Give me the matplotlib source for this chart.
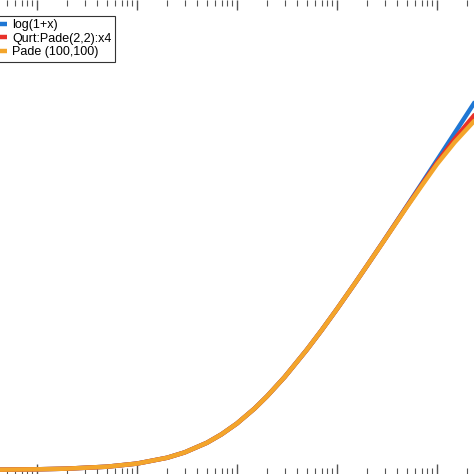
import matplotlib
matplotlib.use("Agg")
import matplotlib.pyplot as plt

x = [0.004, 0.01, 0.02, 0.05, 0.1, 0.2, 0.3, 0.5, 0.7, 1, 1.5, 2, 3, 5, 7, 10, 15, 20, 30, 50, 70, 100, 150, 250]
log1p = [0.004, 0.00995, 0.0198, 0.0488, 0.0953, 0.182, 0.262, 0.405, 0.531, 0.693, 0.916, 1.099, 1.386, 1.792, 2.079, 2.398, 2.773, 3.045, 3.434, 3.932, 4.263, 4.615, 5.017, 5.525]
qurt = [0.004, 0.00995, 0.0198, 0.0488, 0.0953, 0.182, 0.262, 0.405, 0.531, 0.693, 0.916, 1.099, 1.386, 1.792, 2.079, 2.398, 2.773, 3.045, 3.432, 3.925, 4.245, 4.580, 4.93, 5.33]
pade = [0.004, 0.00995, 0.0198, 0.0488, 0.0953, 0.182, 0.262, 0.405, 0.531, 0.693, 0.916, 1.099, 1.386, 1.792, 2.079, 2.398, 2.773, 3.045, 3.430, 3.918, 4.230, 4.555, 4.88, 5.24]
labels = ["log(1+x)", "Qurt:Pade(2,2):x4", "Pade (100,100)"]
colors = ["#1f77d4", "#e8312a", "#f3a52b"]

plt.rcParams["font.family"] = ["Liberation Sans", "DejaVu Sans"]
fig = plt.figure(figsize=(4.74, 4.74), dpi=100)
ax = fig.add_axes([0, 0, 1, 1])
for y, lab, c in zip([log1p, qurt, pade], labels, colors):
    ax.plot(x, y, color=c, lw=3.2, label=lab, solid_capstyle="butt")
ax.set_xscale("log")
ax.set_xlim(10 ** (-2 - 0.37), 10 ** (2 + 0.37))
ax.set_ylim(-0.06, 7.0)
for s in ax.spines.values():
    s.set_visible(False)
ax.tick_params(axis="x", which="both", direction="in", top=True, bottom=True,
               labelbottom=False, colors="#555555")
ax.tick_params(axis="x", which="major", length=7, width=1)
ax.tick_params(axis="x", which="minor", length=4, width=0.8)
ax.tick_params(axis="y", left=False, labelleft=False)
leg = ax.legend(loc="upper left", bbox_to_anchor=(-0.035, 0.98), fontsize=9,
                handlelength=1.1, handletextpad=0.4, borderpad=0.3, labelspacing=0.1,
                fancybox=False, edgecolor="#333333", framealpha=1)
leg.get_frame().set_linewidth(0.8)
fig.savefig("out.png", dpi=100)
